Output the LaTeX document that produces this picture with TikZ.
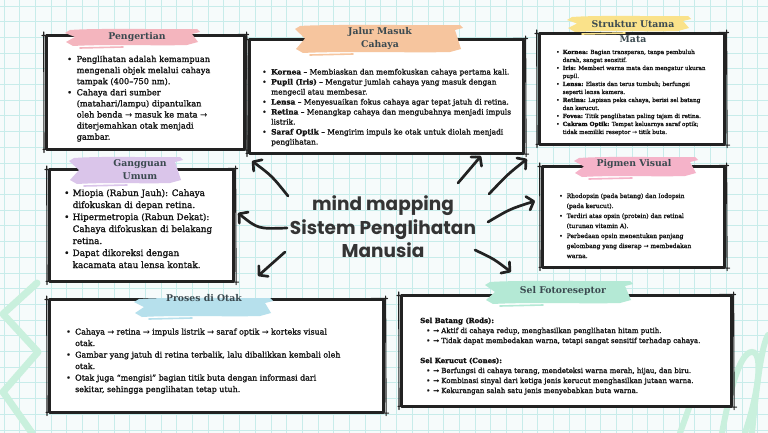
\documentclass[tikz,border=0pt]{standalone}
\usepackage{fontspec}
\setmainfont{DejaVu Serif}
\newfontfamily\bodyfont{DejaVu Serif}[FakeBold=1.6]
\newfontfamily\titlefont{DejaVu Serif}
\newfontfamily\centerfont{Poppins}
\usetikzlibrary{arrows.meta}
\definecolor{bg}{HTML}{F6FBFB}
\definecolor{gridc}{HTML}{C8ECEA}
\definecolor{ink}{HTML}{222222}
\definecolor{txt}{HTML}{141414}
\definecolor{titleink}{HTML}{3B4A50}
\definecolor{bpink}{HTML}{F4B5BE}
\definecolor{borange}{HTML}{F6C59E}
\definecolor{byellow}{HTML}{FAE28A}
\definecolor{blav}{HTML}{DAC5EA}
\definecolor{bpinkb}{HTML}{F5B3C9}
\definecolor{bblue}{HTML}{B6E0EC}
\definecolor{bmint}{HTML}{B4E9D5}
\definecolor{deco}{HTML}{C9F0DD}
\newcommand\bl[1]{\makebox[#1][l]{\textbullet}}
\newcommand\ix[1]{\hspace*{#1}}
% brush: colour, x1, x2, ytop, ybottom
\newcommand\brush[5]{%
  \fill[#1] ({#2+2},{#4+1}) .. controls ({#2+30},{#4-1}) and ({#3-40},{#4+0.5}) .. ({#3},{#4})
    -- ({#3+3},{#4+3}) -- ({#3-5},{#4+5}) -- ({#3+1},{#5-3}) -- ({#3-10},{#5})
    .. controls ({#3-40},{#5+1}) and ({#2+40},{#5-1}) .. ({#2+5},{#5+1})
    -- ({#2-2},{#5-3}) -- ({#2+7},{(#4+#5)/2}) -- ({#2-3},{#4+4}) -- cycle;
  \draw[#1, line width=1.6pt, line cap=round] ({#2+12},{#5+3}) -- ({#2+55},{#5+2});}
\newcommand\rough[1]{%
  \draw[ink, line width=1.1pt, line cap=round]
    ([shift={(-3,1.5)}]#1.north west) -- ([shift={(3,0.5)}]#1.north east)
    ([shift={(1,-2)}]#1.north east) -- ([shift={(1.5,2)}]#1.south east)
    ([shift={(4,-0.5)}]#1.south east) -- ([shift={(-2,-1.2)}]#1.south west)
    ([shift={(-1,2)}]#1.south west) -- ([shift={(-1.3,-2)}]#1.north west);}
\begin{document}
\begin{tikzpicture}[x=1pt,y=-1pt,
  box/.style={draw=ink, line width=2.6pt, fill=white, inner sep=0pt, line join=round, anchor=north west},
  body/.style={inner sep=0pt, anchor=base west, text=txt},
  ttl/.style={font=\titlefont\bfseries\fontsize{9.3}{13}\selectfont, text=titleink, align=center, inner sep=0pt},
  conn/.style={draw=ink, line width=2.7pt, line cap=round, -{Straight Barb[length=6pt, width=14pt, round]}}]
\useasboundingbox (0,0) rectangle (768,433);
\fill[bg] (0,0) rectangle (768,433);
\foreach \i in {0,...,49} \draw[gridc, line width=0.8pt] ({\i*15.7+4},0) -- ({\i*15.7+4},433);
\foreach \j in {0,...,28} \draw[gridc, line width=0.8pt] (0,{\j*15.7+6}) -- (768,{\j*15.7+6});
% decorations
\draw[deco, line width=7pt, line cap=round, line join=round] (37,283) -- (3,314) -- (38,352) -- (3,392) -- (32,433);
\draw[deco, line width=6pt, line cap=round, line join=round] (680,433) -- (698,383) -- (688,394);
\draw[deco, line width=6pt, line cap=round] (722,433) .. controls (730,390) and (740,352) .. (752,352) .. controls (764,352) and (758,395) .. (745,433);
\draw[deco, line width=6pt, line cap=round] (752,433) .. controls (757,380) and (762,345) .. (768,335);

% ---------- Pengertian
\node[box, minimum width=198pt, minimum height=114pt] (bPeng) at (45,34) {};
\rough{bPeng}
\brush{bpink}{68}{197}{29}{45}
\node[ttl] (hPeng) at (137,37) {Pengertian};
\node[body, font=\bodyfont\fontsize{8.2}{11.1}\selectfont] (tPeng) at (67,62) {\begin{tabular}[t]{@{}l@{}}
\bl{9.5pt}Penglihatan adalah kemampuan\\
\ix{9.5pt}mengenali objek melalui cahaya\\
\ix{9.5pt}tampak (400–750 nm).\\
\bl{9.5pt}Cahaya dari sumber\\
\ix{9.5pt}(matahari/lampu) dipantulkan\\
\ix{9.5pt}oleh benda → masuk ke mata →\\
\ix{9.5pt}diterjemahkan otak menjadi\\
\ix{9.5pt}gambar.
\end{tabular}};

% ---------- Jalur Masuk Cahaya
\node[box, minimum width=274pt, minimum height=114pt] (bJal) at (248,38) {};
\rough{bJal}
\brush{borange}{298}{460}{25}{52}
\node[ttl] (hJal) at (380,39) {Jalur Masuk\\Cahaya};
\node[body, font=\bodyfont\fontsize{7.4}{10}\selectfont] (tJal) at (262,74.5) {\begin{tabular}[t]{@{}l@{}}
\bl{9pt}\textbf{Kornea} – Membiaskan dan memfokuskan cahaya pertama kali.\\
\bl{9pt}\textbf{Pupil (Iris)} – Mengatur jumlah cahaya yang masuk dengan\\
\ix{9pt}mengecil atau membesar.\\
\bl{9pt}\textbf{Lensa} – Menyesuaikan fokus cahaya agar tepat jatuh di retina.\\
\bl{9pt}\textbf{Retina} – Menangkap cahaya dan mengubahnya menjadi impuls\\
\ix{9pt}listrik.\\
\bl{9pt}\textbf{Saraf Optik} – Mengirim impuls ke otak untuk diolah menjadi\\
\ix{9pt}penglihatan.
\end{tabular}};

% ---------- Struktur Utama Mata
\node[box, minimum width=185pt, minimum height=111pt] (bStr) at (538,32) {};
\rough{bStr}
\brush{byellow}{570}{688}{16}{31}
\node[ttl, font=\titlefont\bfseries\fontsize{9.3}{15}\selectfont] (hStr) at (633,32) {Struktur Utama\\Mata};
\node[body, font=\bodyfont\fontsize{5.7}{8}\selectfont] (tStr) at (556,54) {\begin{tabular}[t]{@{}l@{}}
\bl{6.5pt}\textbf{Kornea:} Bagian transparan, tanpa pembuluh\\
\ix{6.5pt}darah, sangat sensitif.\\
\bl{6.5pt}\textbf{Iris:} Memberi warna mata dan mengatur ukuran\\
\ix{6.5pt}pupil.\\
\bl{6.5pt}\textbf{Lensa:} Elastis dan terus tumbuh; berfungsi\\
\ix{6.5pt}seperti lensa kamera.\\
\bl{6.5pt}\textbf{Retina:} Lapisan peka cahaya, berisi sel batang\\
\ix{6.5pt}dan kerucut.\\
\bl{6.5pt}\textbf{Fovea:} Titik penglihatan paling tajam di retina.\\
\bl{6.5pt}\textbf{Cakram Optik:} Tempat keluarnya saraf optik;\\
\ix{6.5pt}tidak memiliki reseptor → titik buta.
\end{tabular}};

% ---------- Gangguan Umum
\node[box, minimum width=184pt, minimum height=112pt] (bGan) at (48,168) {};
\rough{bGan}
\brush{blav}{72}{180}{157}{183}
\node[ttl] (hGan) at (140,169.5) {Gangguan\\Umum};
\node[body, font=\bodyfont\fontsize{8.8}{12}\selectfont] (tGan) at (64,196) {\begin{tabular}[t]{@{}l@{}}
\bl{8.5pt}Miopia (Rabun Jauh): Cahaya\\
\ix{8.5pt}difokuskan di depan retina.\\
\bl{8.5pt}Hipermetropia (Rabun Dekat):\\
\ix{8.5pt}Cahaya difokuskan di belakang\\
\ix{8.5pt}retina.\\
\bl{8.5pt}Dapat dikoreksi dengan\\
\ix{8.5pt}kacamata atau lensa kontak.
\end{tabular}};

% ---------- Pigmen Visual
\node[box, minimum width=182pt, minimum height=101pt] (bPig) at (541,165) {};
\rough{bPig}
\brush{bpinkb}{577}{695}{157}{176}
\node[ttl] (hPig) at (634,164) {Pigmen Visual};
\node[body, font=\bodyfont\fontsize{6.0}{10}\selectfont] (tPig) at (559,198) {\begin{tabular}[t]{@{}l@{}}
\bl{7.5pt}Rhodopsin (pada batang) dan Iodopsin\\
\ix{7.5pt}(pada kerucut).\\
\bl{7.5pt}Terdiri atas opsin (protein) dan retinal\\
\ix{7.5pt}(turunan vitamin A).\\
\bl{7.5pt}Perbedaan opsin menentukan panjang\\
\ix{7.5pt}gelombang yang diserap → membedakan\\
\ix{7.5pt}warna.
\end{tabular}};

% ---------- Proses di Otak
\node[box, minimum width=334pt, minimum height=113pt] (bPro) at (48,298) {};
\rough{bPro}
\brush{bblue}{137}{270}{298}{316}
\node[ttl] (hPro) at (204,298) {Proses di Otak};
\node[body, font=\bodyfont\fontsize{7.9}{11.5}\selectfont] (tPro) at (66,334.5) {\begin{tabular}[t]{@{}l@{}}
\bl{9pt}Cahaya → retina → impuls listrik → saraf optik → korteks visual\\
\ix{9pt}otak.\\
\bl{9pt}Gambar yang jatuh di retina terbalik, lalu dibalikkan kembali oleh\\
\ix{9pt}otak.\\
\bl{9pt}Otak juga “mengisi” bagian titik buta dengan informasi dari\\
\ix{9pt}sekitar, sehingga penglihatan tetap utuh.
\end{tabular}};

% ---------- Sel Fotoreseptor
\node[box, minimum width=330pt, minimum height=111pt] (bSel) at (400,294) {};
\rough{bSel}
\brush{bmint}{488}{630}{281}{303}
\node[ttl] (hSel) at (563,291) {Sel Fotoreseptor};
\node[body, font=\bodyfont\fontsize{7.0}{10}\selectfont] (tSel) at (420,323) {\begin{tabular}[t]{@{}l@{}}
\textbf{Sel Batang (Rods):}\\
\ix{6pt}\bl{7pt}→ Aktif di cahaya redup, menghasilkan penglihatan hitam putih.\\
\ix{6pt}\bl{7pt}→ Tidak dapat membedakan warna, tetapi sangat sensitif terhadap cahaya.\\
\mbox{}\\
\textbf{Sel Kerucut (Cones):}\\
\ix{6pt}\bl{7pt}→ Berfungsi di cahaya terang, mendeteksi warna merah, hijau, dan biru.\\
\ix{6pt}\bl{7pt}→ Kombinasi sinyal dari ketiga jenis kerucut menghasilkan jutaan warna.\\
\ix{6pt}\bl{7pt}→ Kekurangan salah satu jenis menyebabkan buta warna.
\end{tabular}};

% ---------- centre
\node[font=\centerfont\bfseries\fontsize{18.5}{23.5}\selectfont, text=ink!92, align=center, inner sep=0pt] (centre) at (383,227) {mind mapping\\Sistem Penglihatan\\Manusia};

% ---------- arrows
\coordinate (s1) at (288,196); \coordinate (e1) at (252,161);
\coordinate (s2) at (287,228); \coordinate (e2) at (238,213);
\coordinate (s3) at (285,252); \coordinate (e3) at (258,276);
\coordinate (s4) at (458,183); \coordinate (e4) at (481,156);
\coordinate (s5) at (489,194); \coordinate (e5) at (527,159);
\coordinate (s6) at (488,222); \coordinate (e6) at (535,201);
\coordinate (s7) at (475,250); \coordinate (e7) at (511,272);
\draw[conn] (s1) .. controls (272,176) .. (e1);
\draw[conn] (s2) .. controls (258,229) .. (e2);
\draw[conn] (s3) -- (e3);
\draw[conn] (s4) -- (e4);
\draw[conn] (s5) .. controls (508,174) .. (e5);
\draw[conn] (s6) .. controls (510,209) .. (e6);
\draw[conn] (s7) .. controls (494,259) .. (e7);
\end{tikzpicture}
\end{document}
